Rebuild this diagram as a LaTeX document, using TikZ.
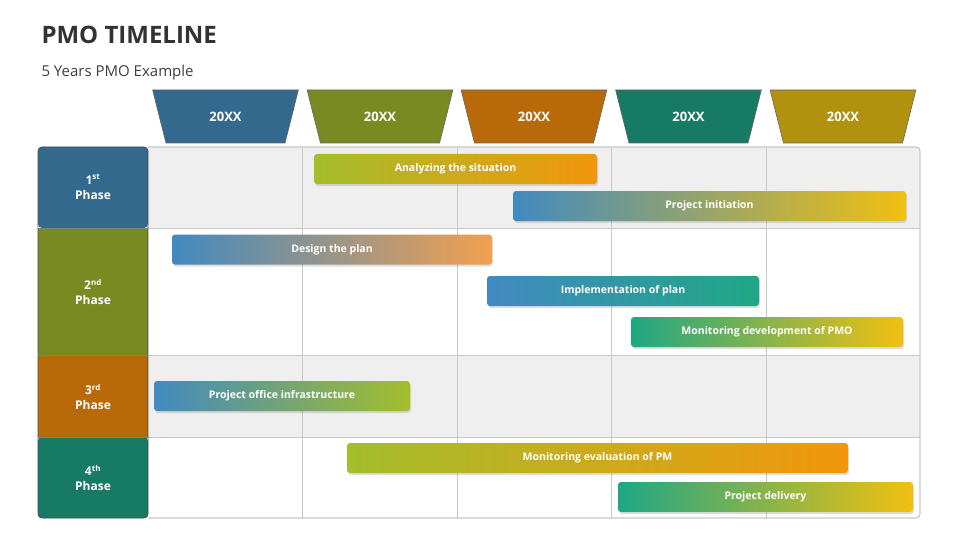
\documentclass[tikz,border=0pt]{standalone}
\usepackage{fontspec}
\setmainfont{Open Sans}
\usetikzlibrary{shapes.geometric}
\definecolor{cB}{HTML}{33698C}
\definecolor{cO}{HTML}{7A8A22}
\definecolor{cR}{HTML}{B86A0A}
\definecolor{cT}{HTML}{177A64}
\definecolor{cG}{HTML}{B0920F}
\definecolor{gB}{HTML}{418AC0}
\definecolor{gGr}{HTML}{A4BE2C}
\definecolor{gOr}{HTML}{F3960C}
\definecolor{gY}{HTML}{F1C011}
\definecolor{gT}{HTML}{1FA785}
\definecolor{gLo}{HTML}{F2A050}
\definecolor{gridc}{HTML}{C8C8C8}
\definecolor{rowg}{HTML}{EFEFEF}
\tikzset{
 hdr/.style={trapezium, trapezium angle=-75, trapezium stretches=true, minimum width=146pt, minimum height=53pt, draw=black!60, line width=0.6pt, text=white, font=\bfseries\fontsize{13}{15}\selectfont},
 bar/.style={rounded corners=3pt, minimum height=30pt, inner sep=0pt, text=white, font=\fontsize{10.5}{12}\selectfont\bfseries, drop shadow={shadow xshift=1pt, shadow yshift=-2pt, opacity=0.25}},
 phase/.style={text=white, font=\bfseries\fontsize{12}{15}\selectfont, align=center}
}
\usetikzlibrary{shadows}
\begin{document}
\begin{tikzpicture}[x=1pt,y=-1pt]
\useasboundingbox (0,0) rectangle (960,540);
\fill[white] (0,0) rectangle (960,540);
\node[anchor=west, font=\bfseries\fontsize{24}{28}\selectfont, text=black!80] (title) at (38,35) {PMO TIMELINE};
\node[anchor=west, font=\fontsize{15}{18}\selectfont, text=black!75] (sub) at (38,73) {5 Years PMO Example};
% headers
\foreach \x/\c [count=\i] in {225.5/cB,380/cO,534/cR,688.5/cT,843/cG}
  \node[hdr, fill=\c] (h\i) at (\x,116.5) {20XX};
% rows
\fill[rowg] (148,147) rectangle (920,228);
\fill[white] (148,228) rectangle (920,355);
\fill[rowg] (148,355) rectangle (920,437);
\fill[white] (148,437) rectangle (920,518);
\foreach \x in {302,457,611,766} \draw[gridc, line width=1pt] (\x,147) -- (\x,518);
\foreach \y in {228,355,437} \draw[gridc, line width=1pt] (148,\y) -- (920,\y);
\draw[gridc, line width=1.2pt, rounded corners=4pt] (148,147) -- (920,147) -- (920,518) -- (148,518);
% phase column
\fill[cB, rounded corners=4pt] (38,228) |- (148,147) -- (148,228) -- cycle;
\fill[cO] (38,228) rectangle (148,355);
\fill[cR] (38,355) rectangle (148,437);
\fill[cT, rounded corners=4pt] (38,437) |- (148,518) -- (148,437) -- cycle;
\draw[black!70, line width=0.8pt, rounded corners=4pt] (148,147) -- (38,147) -- (38,518) -- (148,518) -- cycle;
\foreach \y in {228,355,437} \draw[black!50, line width=0.6pt] (38,\y) -- (148,\y);
\node[phase] (p1) at (93,187) {1\textsuperscript{st}\\Phase};
\node[phase] (p2) at (93,292) {2\textsuperscript{nd}\\Phase};
\node[phase] (p3) at (93,397) {3\textsuperscript{rd}\\Phase};
\node[phase] (p4) at (93,478) {4\textsuperscript{th}\\Phase};
% bars
\node[bar, minimum width=283pt, left color=gGr, right color=gOr] (b1) at (455.5,169) {Analyzing the situation};
\node[bar, minimum width=393pt, left color=gB, right color=gY] (b2) at (709.5,206) {Project initiation};
\node[bar, minimum width=320pt, left color=gB, right color=gLo] (b3) at (332,249.5) {Design the plan};
\node[bar, minimum width=272pt, left color=gB, right color=gT] (b4) at (623,291) {Implementation of plan};
\node[bar, minimum width=272pt, left color=gT, right color=gY] (b5) at (767,332) {Monitoring development of PMO};
\node[bar, minimum width=256pt, left color=gB, right color=gGr] (b6) at (282,396) {Project office infrastructure};
\node[bar, minimum width=501pt, left color=gGr, right color=gOr] (b7) at (597.5,458) {Monitoring evaluation of PM};
\node[bar, minimum width=295pt, left color=gT, right color=gY] (b8) at (765.5,497) {Project delivery};
\end{tikzpicture}
\end{document}
